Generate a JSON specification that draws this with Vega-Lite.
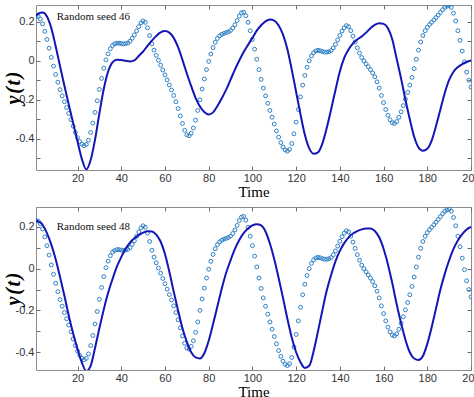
{
  "$schema": "https://vega.github.io/schema/vega-lite/v6.json",
  "background": "white",
  "padding": {"left": 2, "top": 4, "right": 0, "bottom": 0},
  "spacing": 37,
  "bounds": "flush",
  "config": {
    "view": {"stroke": "#8c8c8c", "strokeWidth": 1},
    "axis": {
      "grid": false,
      "domain": false,
      "tickSize": -4,
      "tickColor": "#6e6e6e",
      "labelFont": "Liberation Sans",
      "labelFontSize": 11,
      "labelColor": "#333333",
      "labelPadding": 6,
      "labelFlush": false,
      "labelOverlap": false,
      "titleFont": "Liberation Serif",
      "titleColor": "#000000",
      "titleFontWeight": "normal"
    }
  },
  "datasets": {
    "obs": [
      {"t":1,"y":0.230},{"t":2,"y":0.228},{"t":3,"y":0.215},{"t":4,"y":0.190},{"t":5,"y":0.152},{"t":6,"y":0.110},{"t":7,"y":0.065},{"t":8,"y":0.018},{"t":9,"y":-0.027},{"t":10,"y":-0.070},
      {"t":11,"y":-0.110},{"t":12,"y":-0.148},{"t":13,"y":-0.180},{"t":14,"y":-0.210},{"t":15,"y":-0.240},{"t":16,"y":-0.270},{"t":17,"y":-0.302},{"t":18,"y":-0.336},{"t":19,"y":-0.368},{"t":20,"y":-0.395},
      {"t":21,"y":-0.415},{"t":22,"y":-0.428},{"t":23,"y":-0.436},{"t":24,"y":-0.430},{"t":25,"y":-0.408},{"t":26,"y":-0.368},{"t":27,"y":-0.320},{"t":28,"y":-0.265},{"t":29,"y":-0.205},{"t":30,"y":-0.147},
      {"t":31,"y":-0.090},{"t":32,"y":-0.038},{"t":33,"y":0.005},{"t":34,"y":0.036},{"t":35,"y":0.062},{"t":36,"y":0.079},{"t":37,"y":0.087},{"t":38,"y":0.091},{"t":39,"y":0.091},{"t":40,"y":0.089},
      {"t":41,"y":0.087},{"t":42,"y":0.089},{"t":43,"y":0.092},{"t":44,"y":0.101},{"t":45,"y":0.116},{"t":46,"y":0.133},{"t":47,"y":0.154},{"t":48,"y":0.176},{"t":49,"y":0.195},{"t":50,"y":0.205},
      {"t":51,"y":0.198},{"t":52,"y":0.170},{"t":53,"y":0.130},{"t":54,"y":0.088},{"t":55,"y":0.055},{"t":56,"y":0.028},{"t":57,"y":0.003},{"t":58,"y":-0.022},{"t":59,"y":-0.047},{"t":60,"y":-0.072},
      {"t":61,"y":-0.098},{"t":62,"y":-0.124},{"t":63,"y":-0.150},{"t":64,"y":-0.178},{"t":65,"y":-0.210},{"t":66,"y":-0.245},{"t":67,"y":-0.283},{"t":68,"y":-0.322},{"t":69,"y":-0.357},{"t":70,"y":-0.380},
      {"t":71,"y":-0.385},{"t":72,"y":-0.372},{"t":73,"y":-0.345},{"t":74,"y":-0.305},{"t":75,"y":-0.255},{"t":76,"y":-0.200},{"t":77,"y":-0.145},{"t":78,"y":-0.093},{"t":79,"y":-0.045},{"t":80,"y":-0.003},
      {"t":81,"y":0.035},{"t":82,"y":0.068},{"t":83,"y":0.095},{"t":84,"y":0.115},{"t":85,"y":0.128},{"t":86,"y":0.136},{"t":87,"y":0.141},{"t":88,"y":0.145},{"t":89,"y":0.149},{"t":90,"y":0.156},
      {"t":91,"y":0.168},{"t":92,"y":0.185},{"t":93,"y":0.207},{"t":94,"y":0.230},{"t":95,"y":0.247},{"t":96,"y":0.250},{"t":97,"y":0.232},{"t":98,"y":0.198},{"t":99,"y":0.155},{"t":100,"y":0.110},
      {"t":101,"y":0.060},{"t":102,"y":0.008},{"t":103,"y":-0.045},{"t":104,"y":-0.095},{"t":105,"y":-0.140},{"t":106,"y":-0.180},{"t":107,"y":-0.218},{"t":108,"y":-0.255},{"t":109,"y":-0.290},{"t":110,"y":-0.325},
      {"t":111,"y":-0.360},{"t":112,"y":-0.392},{"t":113,"y":-0.420},{"t":114,"y":-0.443},{"t":115,"y":-0.458},{"t":116,"y":-0.464},{"t":117,"y":-0.455},{"t":118,"y":-0.425},{"t":119,"y":-0.375},{"t":120,"y":-0.315},
      {"t":121,"y":-0.250},{"t":122,"y":-0.185},{"t":123,"y":-0.125},{"t":124,"y":-0.075},{"t":125,"y":-0.033},{"t":126,"y":0.000},{"t":127,"y":0.025},{"t":128,"y":0.042},{"t":129,"y":0.051},{"t":130,"y":0.054},
      {"t":131,"y":0.052},{"t":132,"y":0.048},{"t":133,"y":0.045},{"t":134,"y":0.045},{"t":135,"y":0.047},{"t":136,"y":0.053},{"t":137,"y":0.066},{"t":138,"y":0.085},{"t":139,"y":0.108},{"t":140,"y":0.131},
      {"t":141,"y":0.153},{"t":142,"y":0.170},{"t":143,"y":0.181},{"t":144,"y":0.176},{"t":145,"y":0.155},{"t":146,"y":0.127},{"t":147,"y":0.097},{"t":148,"y":0.067},{"t":149,"y":0.040},{"t":150,"y":0.017},
      {"t":151,"y":0.000},{"t":152,"y":-0.015},{"t":153,"y":-0.030},{"t":154,"y":-0.045},{"t":155,"y":-0.062},{"t":156,"y":-0.082},{"t":157,"y":-0.108},{"t":158,"y":-0.140},{"t":159,"y":-0.178},{"t":160,"y":-0.215},
      {"t":161,"y":-0.250},{"t":162,"y":-0.280},{"t":163,"y":-0.303},{"t":164,"y":-0.318},{"t":165,"y":-0.322},{"t":166,"y":-0.312},{"t":167,"y":-0.290},{"t":168,"y":-0.262},{"t":169,"y":-0.230},{"t":170,"y":-0.197},
      {"t":171,"y":-0.162},{"t":172,"y":-0.125},{"t":173,"y":-0.085},{"t":174,"y":-0.040},{"t":175,"y":0.008},{"t":176,"y":0.055},{"t":177,"y":0.097},{"t":178,"y":0.130},{"t":179,"y":0.155},{"t":180,"y":0.172},
      {"t":181,"y":0.186},{"t":182,"y":0.198},{"t":183,"y":0.210},{"t":184,"y":0.222},{"t":185,"y":0.235},{"t":186,"y":0.249},{"t":187,"y":0.263},{"t":188,"y":0.274},{"t":189,"y":0.281},{"t":190,"y":0.285},
      {"t":191,"y":0.275},{"t":192,"y":0.245},{"t":193,"y":0.205},{"t":194,"y":0.155},{"t":195,"y":0.105},{"t":196,"y":0.050},{"t":197,"y":-0.005},{"t":198,"y":-0.058},{"t":199,"y":-0.100},{"t":200,"y":-0.135}
    ],
    "fit46": [
      {"t":1,"y":0.232},{"t":2,"y":0.242},{"t":4,"y":0.248},{"t":6,"y":0.228},{"t":8,"y":0.168},{"t":10,"y":0.075},{"t":12,"y":-0.028},{"t":14,"y":-0.128},{"t":16,"y":-0.225},{"t":18,"y":-0.320},
      {"t":20,"y":-0.415},{"t":22,"y":-0.505},{"t":24,"y":-0.558},{"t":26,"y":-0.510},{"t":28,"y":-0.405},{"t":30,"y":-0.270},{"t":32,"y":-0.145},{"t":34,"y":-0.055},{"t":36,"y":-0.008},{"t":38,"y":0.005},
      {"t":40,"y":0.004},{"t":42,"y":0.000},{"t":44,"y":-0.003},{"t":46,"y":0.002},{"t":48,"y":0.025},{"t":50,"y":0.048},{"t":52,"y":0.077},{"t":54,"y":0.104},{"t":56,"y":0.128},{"t":58,"y":0.146},
      {"t":60,"y":0.153},{"t":62,"y":0.145},{"t":64,"y":0.118},{"t":66,"y":0.070},{"t":68,"y":0.005},{"t":70,"y":-0.065},{"t":72,"y":-0.130},{"t":74,"y":-0.190},{"t":76,"y":-0.235},{"t":78,"y":-0.263},
      {"t":80,"y":-0.276},{"t":82,"y":-0.265},{"t":84,"y":-0.232},{"t":86,"y":-0.192},{"t":88,"y":-0.148},{"t":90,"y":-0.097},{"t":92,"y":-0.045},{"t":94,"y":0.002},{"t":96,"y":0.045},{"t":98,"y":0.082},
      {"t":100,"y":0.118},{"t":102,"y":0.155},{"t":104,"y":0.183},{"t":106,"y":0.203},{"t":108,"y":0.212},{"t":110,"y":0.207},{"t":112,"y":0.182},{"t":114,"y":0.135},{"t":116,"y":0.060},{"t":118,"y":-0.045},
      {"t":120,"y":-0.160},{"t":122,"y":-0.275},{"t":124,"y":-0.380},{"t":126,"y":-0.450},{"t":128,"y":-0.477},{"t":130,"y":-0.470},{"t":132,"y":-0.425},{"t":134,"y":-0.345},{"t":136,"y":-0.250},{"t":138,"y":-0.150},
      {"t":140,"y":-0.055},{"t":142,"y":0.015},{"t":144,"y":0.058},{"t":146,"y":0.090},{"t":148,"y":0.110},{"t":150,"y":0.125},{"t":152,"y":0.145},{"t":154,"y":0.168},{"t":156,"y":0.185},{"t":158,"y":0.193},
      {"t":160,"y":0.190},{"t":162,"y":0.168},{"t":164,"y":0.110},{"t":166,"y":0.010},{"t":168,"y":-0.090},{"t":170,"y":-0.200},{"t":172,"y":-0.300},{"t":174,"y":-0.390},{"t":176,"y":-0.445},{"t":178,"y":-0.462},
      {"t":180,"y":-0.452},{"t":182,"y":-0.410},{"t":184,"y":-0.335},{"t":186,"y":-0.250},{"t":188,"y":-0.165},{"t":190,"y":-0.098},{"t":192,"y":-0.056},{"t":194,"y":-0.032},{"t":196,"y":-0.017},{"t":198,"y":-0.006},
      {"t":200,"y":0.002}
    ],
    "fit48": [
      {"t":1,"y":0.229},{"t":2,"y":0.226},{"t":4,"y":0.210},{"t":6,"y":0.170},{"t":8,"y":0.115},{"t":10,"y":0.045},{"t":12,"y":-0.040},{"t":14,"y":-0.130},{"t":16,"y":-0.225},{"t":18,"y":-0.310},
      {"t":20,"y":-0.385},{"t":22,"y":-0.450},{"t":24,"y":-0.490},{"t":26,"y":-0.465},{"t":28,"y":-0.380},{"t":30,"y":-0.285},{"t":32,"y":-0.195},{"t":34,"y":-0.115},{"t":36,"y":-0.050},{"t":38,"y":0.010},
      {"t":40,"y":0.055},{"t":42,"y":0.095},{"t":44,"y":0.125},{"t":46,"y":0.145},{"t":48,"y":0.160},{"t":50,"y":0.172},{"t":52,"y":0.179},{"t":54,"y":0.178},{"t":56,"y":0.163},{"t":58,"y":0.130},
      {"t":60,"y":0.070},{"t":62,"y":-0.015},{"t":64,"y":-0.110},{"t":66,"y":-0.200},{"t":68,"y":-0.285},{"t":70,"y":-0.350},{"t":72,"y":-0.400},{"t":74,"y":-0.425},{"t":76,"y":-0.430},{"t":78,"y":-0.405},
      {"t":80,"y":-0.345},{"t":82,"y":-0.265},{"t":84,"y":-0.180},{"t":86,"y":-0.095},{"t":88,"y":-0.020},{"t":90,"y":0.040},{"t":92,"y":0.095},{"t":94,"y":0.137},{"t":96,"y":0.170},{"t":98,"y":0.192},
      {"t":100,"y":0.207},{"t":102,"y":0.213},{"t":104,"y":0.207},{"t":106,"y":0.178},{"t":108,"y":0.120},{"t":110,"y":0.045},{"t":112,"y":-0.045},{"t":114,"y":-0.140},{"t":116,"y":-0.240},{"t":118,"y":-0.330},
      {"t":120,"y":-0.400},{"t":122,"y":-0.448},{"t":124,"y":-0.475},{"t":126,"y":-0.465},{"t":128,"y":-0.395},{"t":130,"y":-0.300},{"t":132,"y":-0.200},{"t":134,"y":-0.105},{"t":136,"y":-0.030},{"t":138,"y":0.035},
      {"t":140,"y":0.085},{"t":142,"y":0.122},{"t":144,"y":0.150},{"t":146,"y":0.168},{"t":148,"y":0.180},{"t":150,"y":0.188},{"t":152,"y":0.192},{"t":154,"y":0.192},{"t":156,"y":0.180},{"t":158,"y":0.150},
      {"t":160,"y":0.095},{"t":162,"y":0.020},{"t":164,"y":-0.070},{"t":166,"y":-0.170},{"t":168,"y":-0.260},{"t":170,"y":-0.340},{"t":172,"y":-0.400},{"t":174,"y":-0.430},{"t":176,"y":-0.437},{"t":178,"y":-0.418},
      {"t":180,"y":-0.360},{"t":182,"y":-0.280},{"t":184,"y":-0.190},{"t":186,"y":-0.100},{"t":188,"y":-0.025},{"t":190,"y":0.040},{"t":192,"y":0.095},{"t":194,"y":0.135},{"t":196,"y":0.165},{"t":198,"y":0.187},
      {"t":200,"y":0.200}
    ],
    "labels": [{"panel": "a"}]
  },
  "vconcat": [
    {
      "width": 435,
      "height": 165,
      "layer": [
        {
          "data": {"name": "obs"},
          "mark": {"type": "point", "shape": "circle", "filled": false, "size": 15, "strokeWidth": 1, "color": "#2d7fc3", "opacity": 1, "clip": true},
          "encoding": {
            "x": {"field": "t", "type": "quantitative", "scale": {"domain": [1, 200], "nice": false, "zero": false},
                  "axis": {"orient": "top", "labels": false, "title": null, "values": [20,40,60,80,100,120,140,160,180,200]}},
            "y": {"field": "y", "type": "quantitative", "scale": {"domain": [-0.561, 0.287], "nice": false, "zero": false},
                  "axis": {"orient": "right", "labels": false, "title": null, "values": [-0.5,-0.4,-0.3,-0.2,-0.1,0,0.1,0.2]}}
          }
        },
        {
          "data": {"name": "fit46"},
          "mark": {"type": "line", "color": "#1414b8", "strokeWidth": 2, "interpolate": "monotone", "clip": true},
          "encoding": {
            "x": {"field": "t", "type": "quantitative",
                  "axis": {"orient": "bottom", "title": "Time", "titleFontSize": 15, "titlePadding": 1, "values": [20,40,60,80,100,120,140,160,180,200]}},
            "y": {"field": "y", "type": "quantitative",
                  "axis": {"orient": "left", "title": "y\u200a(\u200at\u200a)", "titleFontSize": 20, "titleFontStyle": "italic", "titleFontWeight": "bold",
                           "titleX": -23, "titleBaseline": "middle",
                           "values": [-0.5,-0.4,-0.3,-0.2,-0.1,0,0.1,0.2],
                           "labelExpr": "datum.value == 0 ? '0' : (abs(round(datum.value*10)) % 2 == 0 ? (datum.value < 0 ? '-' : '') + format(abs(datum.value), '.1f') : '')"}}
          }
        },
        {
          "data": {"name": "labels"},
          "mark": {"type": "text", "font": "Liberation Serif", "fontSize": 11, "color": "#111111", "align": "left", "baseline": "middle"},
          "encoding": {
            "x": {"datum": 10.5, "type": "quantitative", "axis": null},
            "y": {"datum": 0.224, "type": "quantitative", "axis": null},
            "text": {"value": "Random seed 46"}
          }
        }
      ],
      "resolve": {"axis": {"x": "independent", "y": "independent"}}
    },
    {
      "width": 435,
      "height": 163,
      "layer": [
        {
          "data": {"name": "obs"},
          "mark": {"type": "point", "shape": "circle", "filled": false, "size": 15, "strokeWidth": 1, "color": "#2d7fc3", "opacity": 1, "clip": true},
          "encoding": {
            "x": {"field": "t", "type": "quantitative", "scale": {"domain": [1, 200], "nice": false, "zero": false},
                  "axis": {"orient": "top", "labels": false, "title": null, "values": [20,40,60,80,100,120,140,160,180,200]}},
            "y": {"field": "y", "type": "quantitative", "scale": {"domain": [-0.485, 0.295], "nice": false, "zero": false},
                  "axis": {"orient": "right", "labels": false, "title": null, "values": [-0.4,-0.3,-0.2,-0.1,0,0.1,0.2]}}
          }
        },
        {
          "data": {"name": "fit48"},
          "mark": {"type": "line", "color": "#1414b8", "strokeWidth": 2, "interpolate": "monotone", "clip": true},
          "encoding": {
            "x": {"field": "t", "type": "quantitative",
                  "axis": {"orient": "bottom", "title": "Time", "titleFontSize": 15, "titlePadding": 1, "values": [20,40,60,80,100,120,140,160,180,200]}},
            "y": {"field": "y", "type": "quantitative",
                  "axis": {"orient": "left", "title": "y\u200a(\u200at\u200a)", "titleFontSize": 20, "titleFontStyle": "italic", "titleFontWeight": "bold",
                           "titleX": -23, "titleBaseline": "middle",
                           "values": [-0.4,-0.3,-0.2,-0.1,0,0.1,0.2],
                           "labelExpr": "datum.value == 0 ? '0' : (abs(round(datum.value*10)) % 2 == 0 ? (datum.value < 0 ? '-' : '') + format(abs(datum.value), '.1f') : '')"}}
          }
        },
        {
          "data": {"name": "labels"},
          "mark": {"type": "text", "font": "Liberation Serif", "fontSize": 11, "color": "#111111", "align": "left", "baseline": "middle"},
          "encoding": {
            "x": {"datum": 10.5, "type": "quantitative", "axis": null},
            "y": {"datum": 0.199, "type": "quantitative", "axis": null},
            "text": {"value": "Random seed 48"}
          }
        }
      ],
      "resolve": {"axis": {"x": "independent", "y": "independent"}}
    }
  ]
}
